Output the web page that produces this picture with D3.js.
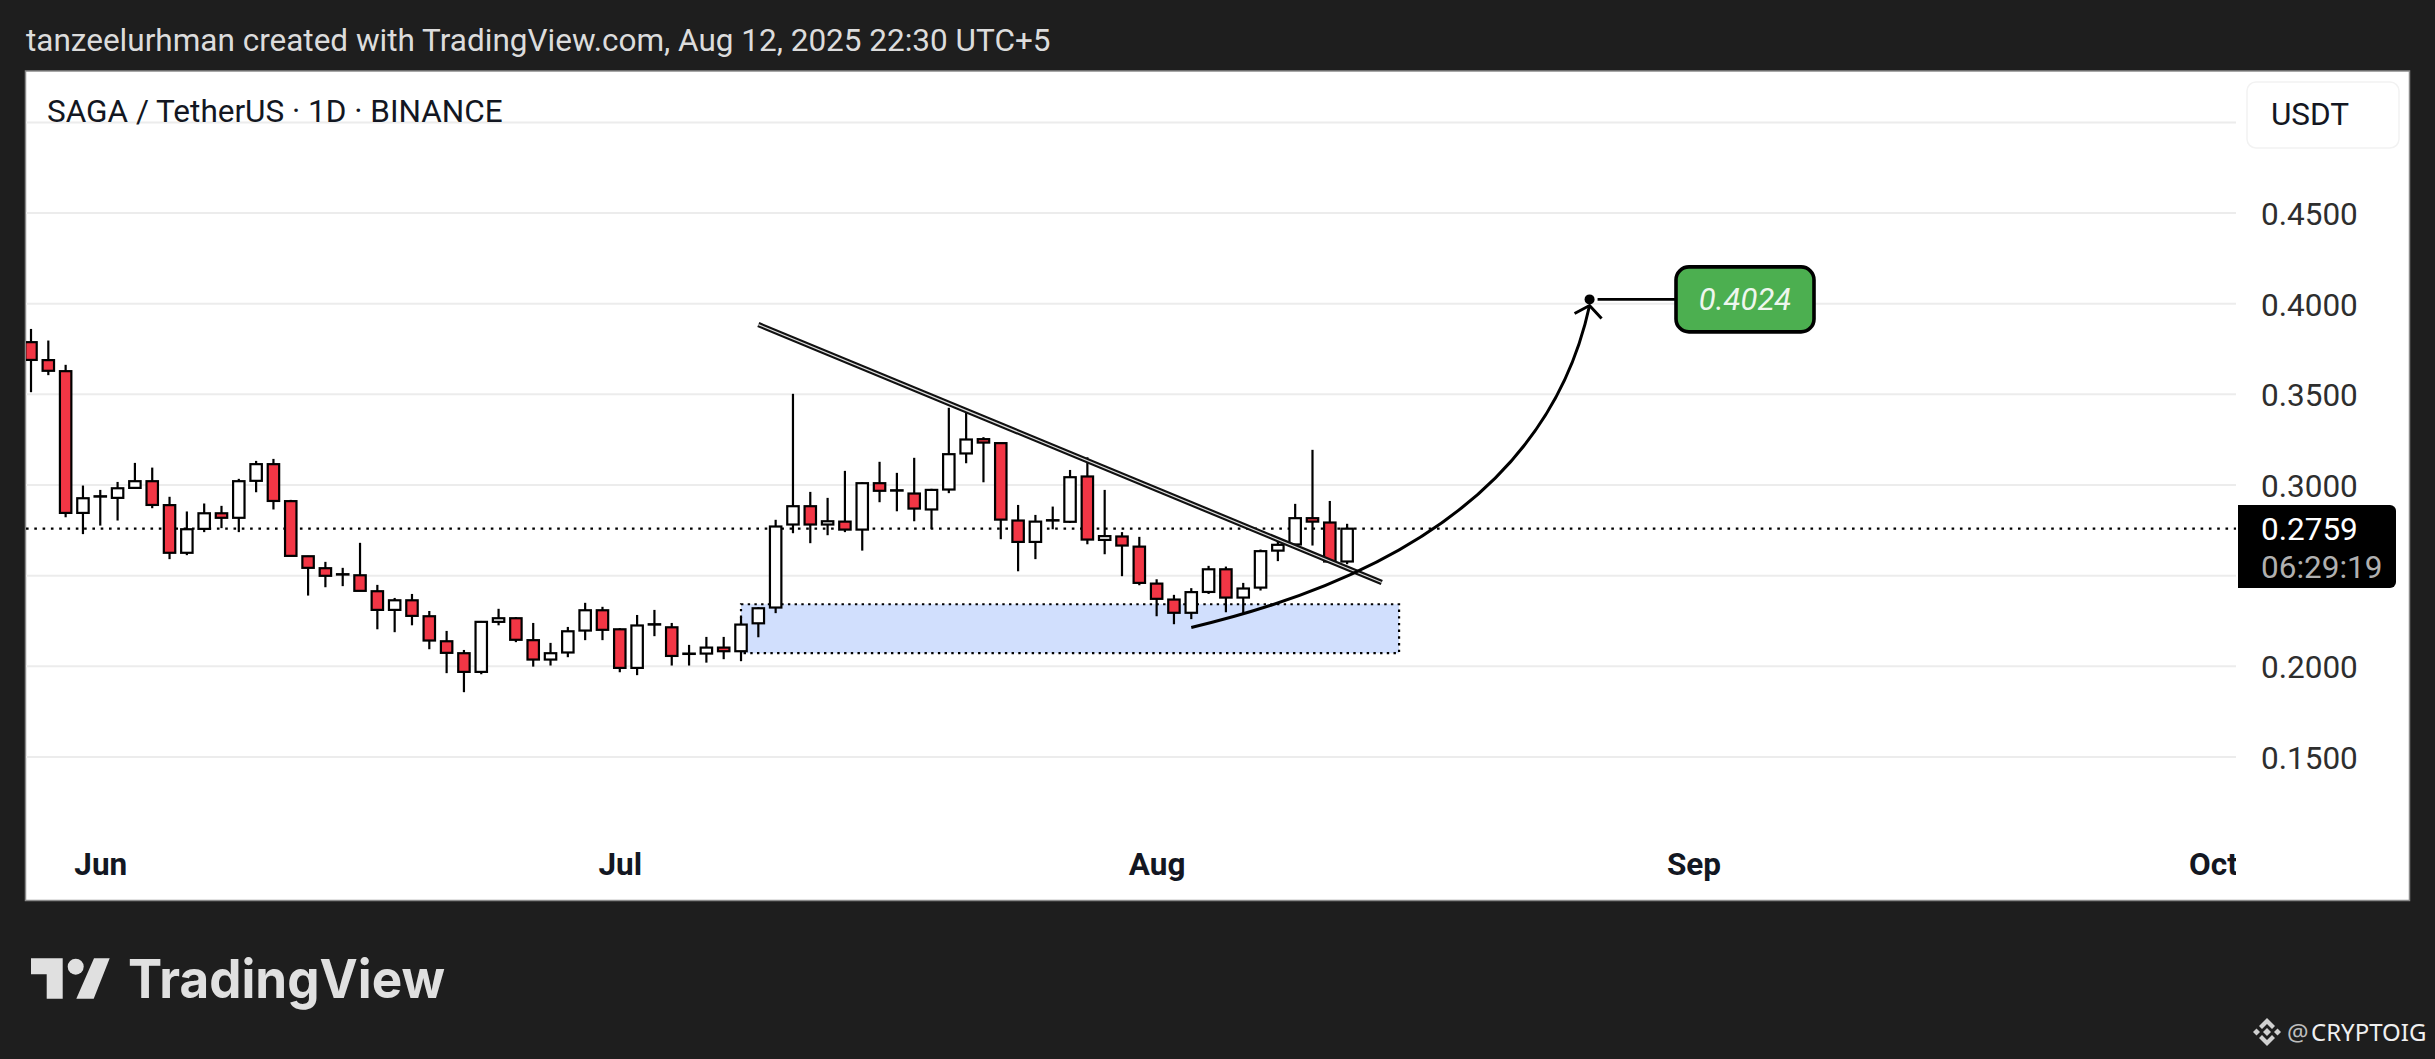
<!DOCTYPE html>
<html><head><meta charset="utf-8">
<script src="https://cdn.jsdelivr.net/npm/d3@7/dist/d3.min.js"></script>
<style>html,body{margin:0;padding:0;background:#1e1e1e;overflow:hidden}svg{display:block}
text{font-family:Roboto,sans-serif}</style></head><body><svg id="c" width="2435" height="1059"></svg>
<script>
// ---- data ----
const firstDay = "2025-05-28";
const opens  = [.3788,.3689,.3628,.2846,.2936,.2929,.2984,.3021,.2889,.2626,.2758,.2844,.2819,.3023,.3115,.2911,.2607,.2541,.2506,.2502,.2414,.2311,.2364,.2276,.2138,.2072,.1969,.2245,.2265,.2144,.2037,.2076,.2197,.2309,.2204,.1991,.2230,.2215,.2068,.2070,.2103,.2083,.2237,.2324,.2782,.2883,.2782,.2798,.2754,.3010,.2969,.2953,.2865,.2975,.3174,.3253,.3231,.2804,.2686,.2804,.2797,.3047,.2697,.2716,.2660,.2456,.2368,.2295,.2410,.2535,.2379,.2434,.2638,.2672,.2817,.2793,.2578];
const highs  = [.3861,.3797,.3663,.2997,.2973,.3017,.3122,.3096,.2935,.2854,.2898,.2885,.3034,.3133,.3144,.2918,.2609,.2576,.2543,.2681,.2449,.2377,.2399,.2305,.2195,.2090,.2250,.2317,.2271,.2239,.2129,.2217,.2350,.2328,.2210,.2283,.2311,.2239,.2118,.2162,.2162,.2271,.2326,.2808,.3503,.2962,.2929,.3078,.3015,.3128,.3067,.3150,.2979,.3426,.3402,.3264,.3232,.2890,.2835,.2881,.3083,.3153,.2973,.2740,.2714,.2480,.2394,.2431,.2554,.2550,.2460,.2644,.2708,.2896,.3194,.2912,.2786];
const lows   = [.3512,.3606,.2822,.2729,.2776,.2804,.2984,.2872,.2591,.2613,.2740,.2762,.2740,.2960,.2865,.2609,.2390,.2436,.2442,.2416,.2204,.2188,.2226,.2094,.1962,.1857,.1956,.2226,.2133,.1998,.2004,.2050,.2144,.2144,.1967,.1951,.2166,.2004,.2004,.2020,.2039,.2028,.2160,.2293,.2734,.2679,.2723,.2740,.2638,.2905,.2855,.2800,.2758,.2955,.3120,.3015,.2701,.2524,.2591,.2756,.2791,.2673,.2618,.2497,.2447,.2276,.2232,.2260,.2399,.2298,.2289,.2418,.2580,.2664,.2666,.2578,.2563];
const closes = [.3690,.3630,.2846,.2927,.2938,.2982,.3021,.2890,.2626,.2756,.2844,.2819,.3021,.3115,.2912,.2609,.2543,.2499,.2508,.2416,.2311,.2364,.2278,.2142,.2074,.1969,.2245,.2265,.2146,.2037,.2072,.2193,.2309,.2201,.1991,.2225,.2232,.2057,.2070,.2103,.2083,.2230,.2320,.2771,.2883,.2782,.2800,.2754,.3010,.2968,.2971,.2870,.2973,.3170,.3251,.3234,.2809,.2686,.2798,.2806,.3043,.2699,.2718,.2666,.2460,.2372,.2295,.2409,.2535,.2379,.2429,.2635,.2670,.2817,.2798,.2578,.2759];
const priceTicks = [0.15,0.20,0.25,0.30,0.35,0.40,0.45];
const gridPrices = [0.15,0.20,0.25,0.30,0.35,0.40,0.45,0.50];
const monthTicks = ["2025-06-01","2025-07-01","2025-08-01","2025-09-01","2025-10-01"];
const monthLabels = ["Jun","Jul","Aug","Sep","Oct"];
const lastPrice = 0.2759, countdown = "06:29:19";
const zoneDays = ["2025-07-08","2025-08-15"], zonePrices = [0.2342,0.2072];
const trendDays = ["2025-07-09","2025-08-14"], trendPrices = [0.3885,0.2462];
const curveDays = ["2025-08-03","2025-08-23","2025-08-26"], curvePrices = [0.2214,0.2666,0.3990];
const targetDay = "2025-08-26", targetPrice = 0.4024, targetLabel = "0.4024";
const headerText = "tanzeelurhman created with TradingView.com, Aug 12, 2025 22:30 UTC+5";
const titleText = "SAGA / TetherUS · 1D · BINANCE";

// ---- scales ----
const P = d3.utcParse("%Y-%m-%d");
const x = d3.scaleUtc().domain([P("2025-05-28"),P("2025-10-01")]).range([31,2213]);
const y = d3.scaleLinear().domain([0.15,0.45]).range([756.9,213.1]);
const plotL=26, plotR=2236, frameR=2409, frameT=71, frameB=900;
const days = d3.utcDay.range(P(firstDay), d3.utcDay.offset(P(firstDay),opens.length));
const candles = days.map((d,i)=>({d,o:opens[i],h:highs[i],l:lows[i],c:closes[i]}));
const bodyW = (x(days[1])-x(days[0]))*0.66;

const svg = d3.select("#c");
svg.append("rect").attr("width",2435).attr("height",1059).attr("fill","#1e1e1e");
svg.append("rect").attr("x",plotL-0.5).attr("y",frameT).attr("width",frameR-plotL+1).attr("height",frameB-frameT+0.5).attr("fill","#fff").attr("stroke","#8a8a8a").attr("stroke-width",1.5);
svg.append("defs").append("clipPath").attr("id","plot").append("rect").attr("x",plotL).attr("y",frameT).attr("width",plotR-plotL).attr("height",frameB-frameT);
const g = svg.append("g").attr("clip-path","url(#plot)");

// grid
g.selectAll("line.grid").data(gridPrices).join("line").attr("class","grid")
  .attr("x1",plotL).attr("x2",plotR).attr("y1",d=>y(d)).attr("y2",d=>y(d))
  .attr("stroke","#ececec").attr("stroke-width",2);

// zone
g.append("rect").attr("x",x(P(zoneDays[0]))).attr("y",y(zonePrices[0]))
  .attr("width",x(P(zoneDays[1]))-x(P(zoneDays[0]))).attr("height",y(zonePrices[1])-y(zonePrices[0]))
  .attr("fill","#d1dffd").attr("stroke","#000").attr("stroke-width",2.2).attr("stroke-dasharray","2.4 4.3");

// last price line
g.append("line").attr("x1",plotL).attr("x2",plotR).attr("y1",y(lastPrice)).attr("y2",y(lastPrice))
  .attr("stroke","#000").attr("stroke-width",2.2).attr("stroke-dasharray","2.6 5.7");

// candles
const cg = g.selectAll("g.candle").data(candles).join("g").attr("class","candle");
cg.append("line").attr("x1",d=>x(d.d)).attr("x2",d=>x(d.d)).attr("y1",d=>y(d.h)).attr("y2",d=>y(d.l))
  .attr("stroke","#000").attr("stroke-width",2.2);
cg.append("rect").attr("x",d=>x(d.d)-bodyW/2).attr("width",bodyW)
  .attr("y",d=>y(Math.max(d.o,d.c))).attr("height",d=>Math.abs(y(d.o)-y(d.c)))
  .attr("fill",d=>d.c<d.o?"#f23645":"#fff").attr("stroke","#000").attr("stroke-width",2.2);

// trend line
const tl = g.append("g");
const tdata=[[trendDays[0],trendPrices[0]],[trendDays[1],trendPrices[1]]];
[["#111",5.4],["#ddd",1.2]].forEach(([c,w])=>{
  tl.append("line").attr("x1",x(P(tdata[0][0]))).attr("y1",y(tdata[0][1])).attr("x2",x(P(tdata[1][0]))).attr("y2",y(tdata[1][1])).attr("stroke",c).attr("stroke-width",w);
});

// curve & arrow
const cx=curveDays.map(d=>x(P(d))), cy=curvePrices.map(p=>y(p));
const cp=d3.path(); cp.moveTo(cx[0],cy[0]); cp.quadraticCurveTo(cx[1],cy[1],cx[2],cy[2]);
g.append("path").attr("d",cp.toString()).attr("fill","none").attr("stroke","#000").attr("stroke-width",3);
const ap=d3.path(); ap.moveTo(cx[2]-15,cy[2]+8); ap.lineTo(cx[2],cy[2]); ap.lineTo(cx[2]+12,cy[2]+13);
g.append("path").attr("d",ap.toString()).attr("fill","none").attr("stroke","#000").attr("stroke-width",3);

// target callout
const tx=x(P(targetDay)), ty=y(targetPrice);
g.append("circle").attr("cx",tx).attr("cy",ty).attr("r",5).attr("fill","#000");
g.append("line").attr("x1",tx+8).attr("x2",1676).attr("y1",ty).attr("y2",ty).attr("stroke","#000").attr("stroke-width",2.6);
g.append("rect").attr("x",1676).attr("y",ty-32.5).attr("width",138).attr("height",65).attr("rx",13)
  .attr("fill","#4caf50").attr("stroke","#000").attr("stroke-width",3.6);
g.append("text").attr("x",1745).attr("y",ty+11).attr("text-anchor","middle").attr("font-size",31).attr("font-style","italic").attr("fill","#eef6ee").text(targetLabel);

// price axis
const ya = svg.append("g").attr("transform","translate(2252,1.2)")
  .call(d3.axisRight(y).tickValues(priceTicks).tickSize(0).tickPadding(9).tickFormat(d3.format(".4f")));
ya.select(".domain").remove();
ya.selectAll("text").attr("font-size",31.5).attr("fill","#2e2e2e").style("font-family","Roboto,sans-serif");

// time axis
const xaWrap = svg.append("g").attr("clip-path","url(#plot)");
const xa = xaWrap.append("g").attr("transform","translate(0,852.6)")
  .call(d3.axisBottom(x).tickValues(monthTicks.map(P)).tickSize(0).tickPadding(0).tickFormat((d,i)=>monthLabels[i]));
xa.select(".domain").remove();
xa.selectAll("text").attr("font-size",31.5).attr("font-weight",700).attr("fill","#131722").style("font-family","Roboto,sans-serif");

// last price tag
const tagPath=d3.path(); tagPath.moveTo(2238,505); tagPath.lineTo(2390,505); tagPath.arcTo(2396,505,2396,511,6); tagPath.lineTo(2396,582); tagPath.arcTo(2396,588,2390,588,6); tagPath.lineTo(2238,588); tagPath.closePath();
svg.append("path").attr("d",tagPath.toString()).attr("fill","#000");
svg.append("text").attr("x",2261).attr("y",540).attr("font-size",31.5).attr("fill","#fff").text(d3.format(".4f")(lastPrice));
svg.append("text").attr("x",2261).attr("y",578).attr("font-size",31.5).attr("fill","#b0b0b0").text(countdown);

// USDT box
svg.append("rect").attr("x",2247).attr("y",82).attr("width",152).attr("height",66).attr("rx",9).attr("fill","#fff").attr("stroke","#f2f2f2").attr("stroke-width",1.5);
svg.append("text").attr("x",2310).attr("y",125).attr("text-anchor","middle").attr("font-size",31.5).attr("fill","#131722").text("USDT");

// title, header
svg.append("text").attr("x",47).attr("y",122).attr("font-size",31.5).attr("fill","#131722").text(titleText);
svg.append("text").attr("x",26).attr("y",51).attr("font-size",31.5).attr("fill","#dcdcdc").text(headerText);

// footer logo
const logo=svg.append("g").attr("fill","#e0e0e0");
logo.append("path").attr("d","M31 958.3H62.7V998.7H46.7V974.3H31Z");
logo.append("circle").attr("cx",75.7).attr("cy",966.7).attr("r",8);
logo.append("path").attr("d","M94 958.3H109.7L93.7 998.7H76.3Z");
logo.append("text").attr("x",128).attr("y",998).attr("font-size",54).attr("font-weight",700).attr("fill","#e0e0e0").attr("textLength",317).attr("lengthAdjust","spacingAndGlyphs").style("font-family","Inter,sans-serif").text("TradingView");

// watermark
const wm=svg.append("g").attr("fill","#d0d0d0").attr("transform","translate(2267,1032)");
wm.append("path").attr("d","M-4 0L0 -4L4 0L0 4Z");
wm.append("path").attr("d","M0 -14L8 -6L5 -3L0 -8L-5 -3L-8 -6Z");
wm.append("path").attr("d","M0 14L8 6L5 3L0 8L-5 3L-8 6Z");
wm.append("path").attr("d","M-14 0L-10.5 -3.5L-7 0L-10.5 3.5Z");
wm.append("path").attr("d","M14 0L10.5 -3.5L7 0L10.5 3.5Z");
svg.append("text").attr("x",2287).attr("y",1041).attr("font-size",24).attr("fill","#bdbdbd").style("font-family","'Noto Sans',sans-serif").text("@");
svg.append("text").attr("x",2311).attr("y",1041).attr("font-size",24).attr("fill","#f0f0f0").style("font-family","'Noto Sans',sans-serif").text("CRYPTOIG");
</script></body></html>
